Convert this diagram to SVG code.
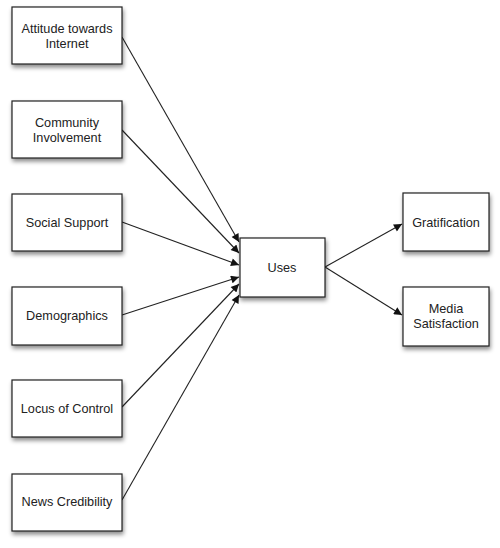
<svg xmlns="http://www.w3.org/2000/svg" width="500" height="548" viewBox="0 0 500 548">
<style>
.box{fill:#fff;stroke:#222;stroke-width:1.2;filter:url(#sh)}
.t{font-family:"Liberation Sans",Arial,sans-serif;font-size:12.7px;fill:#222;text-anchor:middle}
.c{stroke:#222;stroke-width:1.1;fill:none;marker-end:url(#ah)}
</style>
<defs>
<filter id="sh" x="-10%" y="-10%" width="130%" height="140%">
<feDropShadow dx="1" dy="3" stdDeviation="2" flood-color="#000" flood-opacity="0.45"/>
</filter>
<marker id="ah" viewBox="0 0 10 10" refX="10" refY="5" markerWidth="10" markerHeight="8" markerUnits="userSpaceOnUse" orient="auto">
<path d="M0,0 L10,5 L0,10 z" fill="#111"/>
</marker>
</defs>
<rect width="500" height="548" fill="#fff"/>
<g id="connectors">
<line class="c" x1="122" y1="37" x2="239" y2="242"/>
<line class="c" x1="122" y1="130" x2="239" y2="253"/>
<line class="c" x1="122" y1="222" x2="239" y2="265"/>
<line class="c" x1="122" y1="315" x2="239" y2="277"/>
<line class="c" x1="122" y1="407" x2="239" y2="284"/>
<line class="c" x1="122" y1="500" x2="239" y2="295"/>
<line class="c" x1="325" y1="267" x2="402" y2="224"/>
<line class="c" x1="325" y1="267" x2="402" y2="315"/>
</g>
<g id="attitude"><rect class="box" x="12" y="7" width="110" height="57"/><text class="t" x="67" y="33">Attitude towards</text><text class="t" x="67" y="48">Internet</text></g>
<g id="community"><rect class="box" x="12" y="101" width="110" height="57"/><text class="t" x="67" y="127">Community</text><text class="t" x="67" y="142">Involvement</text></g>
<g id="social"><rect class="box" x="12" y="194" width="110" height="57"/><text class="t" x="67" y="227">Social Support</text></g>
<g id="demographics"><rect class="box" x="12" y="287" width="110" height="58"/><text class="t" x="67" y="320">Demographics</text></g>
<g id="locus"><rect class="box" x="12" y="380" width="110" height="57"/><text class="t" x="67" y="413">Locus of Control</text></g>
<g id="news"><rect class="box" x="12" y="474" width="110" height="57"/><text class="t" x="67" y="506">News Credibility</text></g>
<g id="uses"><rect class="box" x="240" y="238" width="85" height="59"/><text class="t" x="282" y="272">Uses</text></g>
<g id="gratification"><rect class="box" x="403" y="193" width="86" height="58"/><text class="t" x="446" y="227">Gratification</text></g>
<g id="media"><rect class="box" x="403" y="287" width="86" height="59"/><text class="t" x="446" y="313">Media</text><text class="t" x="446" y="328">Satisfaction</text></g>
</svg>
